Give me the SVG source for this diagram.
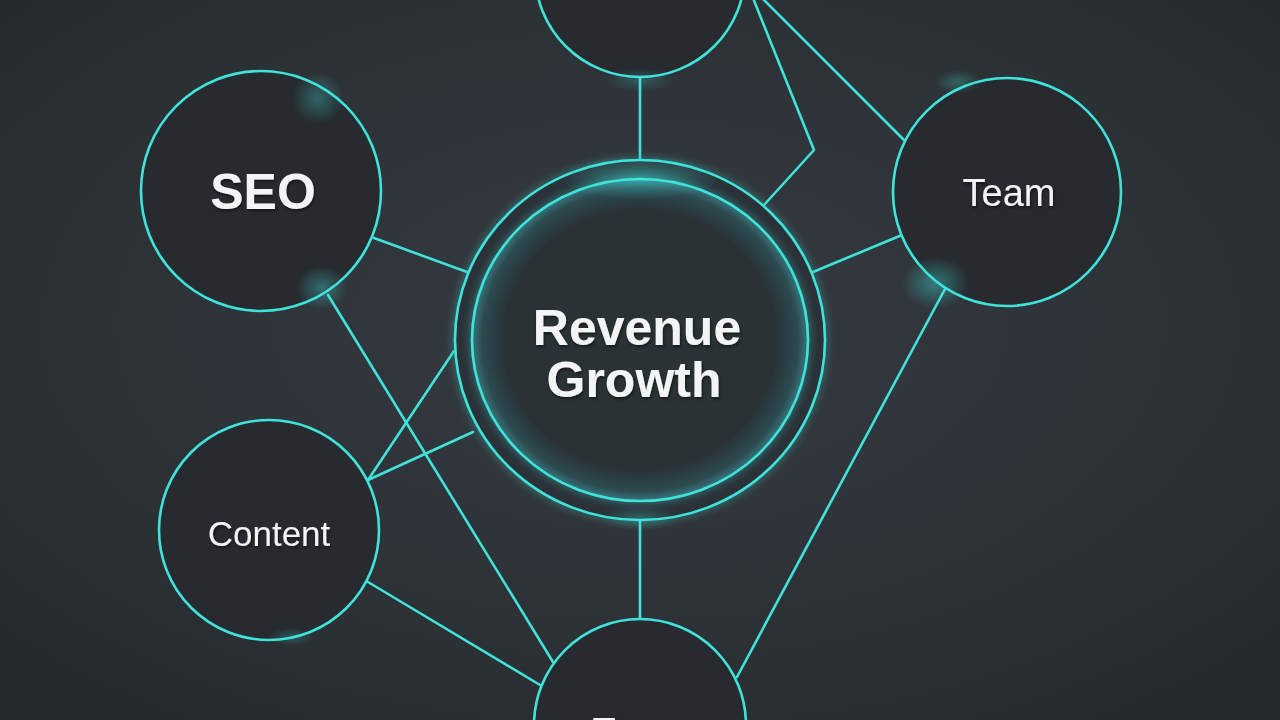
<svg xmlns="http://www.w3.org/2000/svg" width="1280" height="720" viewBox="0 0 1280 720">
<defs>
<radialGradient id="bg" cx="0.5" cy="0.45" r="0.75">
<stop offset="0" stop-color="#353b41"/>
<stop offset="0.6" stop-color="#2c3136"/>
<stop offset="1" stop-color="#24282c"/>
</radialGradient>
<radialGradient id="spot" cx="0.5" cy="0.5" r="0.5">
<stop offset="0" stop-color="#3fe6e0" stop-opacity="0.45"/>
<stop offset="1" stop-color="#3fe6e0" stop-opacity="0"/>
</radialGradient>
<radialGradient id="coreGlow" cx="0.5" cy="0.5" r="0.5">
<stop offset="0.8" stop-color="#2a3036"/>
<stop offset="0.94" stop-color="#2d4a50"/>
<stop offset="1" stop-color="#35777c"/>
</radialGradient>
<filter id="glow" x="-30%" y="-30%" width="160%" height="160%">
<feGaussianBlur in="SourceGraphic" stdDeviation="4" result="b"/>
<feComponentTransfer in="b" result="b2"><feFuncA type="linear" slope="0.6"/></feComponentTransfer>
<feMerge><feMergeNode in="b2"/><feMergeNode in="SourceGraphic"/></feMerge>
</filter>
<filter id="tshadow" x="-20%" y="-20%" width="140%" height="140%">
<feDropShadow dx="1" dy="2" stdDeviation="1.5" flood-color="#000" flood-opacity="0.5"/>
</filter>
</defs>
<style>
.ln{stroke:#3fe3da;stroke-width:2.6;fill:none;stroke-linecap:round;stroke-linejoin:round}
.node{fill:#272b30;stroke:#3fe3da;stroke-width:2.6}
.lbl{font-family:"Liberation Sans",Arial,sans-serif;fill:#f2f4f5;text-anchor:middle;filter:url(#tshadow)}
</style>
<rect width="1280" height="720" fill="url(#bg)"/>

<g id="connectors">
<line class="ln" x1="640" y1="77" x2="640" y2="160"/>
<line class="ln" x1="640" y1="520" x2="640" y2="619"/>
<polyline class="ln" points="753,-2 814,150 764,205"/>
<line class="ln" x1="762" y1="-2" x2="904" y2="140"/>
<line class="ln" x1="374" y1="238" x2="467" y2="272"/>
<line class="ln" x1="328" y1="295" x2="553" y2="662"/>
<line class="ln" x1="368" y1="480" x2="454" y2="351"/>
<line class="ln" x1="368" y1="480" x2="473" y2="432"/>
<line class="ln" x1="368" y1="582" x2="540" y2="685"/>
<line class="ln" x1="813" y1="272" x2="902" y2="235"/>
<line class="ln" x1="945" y1="289" x2="737" y2="677"/>
</g>

<g id="node-top">
<circle class="node" cx="640" cy="-28" r="105"/>
</g>

<g id="node-seo">
<circle class="node" cx="261" cy="191" r="120"/>
<text class="lbl" x="263" y="209" font-size="50" font-weight="bold">SEO</text>
</g>

<g id="node-team">
<circle class="node" cx="1007" cy="192" r="114"/>
<text class="lbl" x="1009" y="206" font-size="38">Team</text>
</g>

<g id="node-content">
<circle class="node" cx="269" cy="530" r="110"/>
<text class="lbl" x="269" y="546" font-size="35">Content</text>
</g>

<g id="node-bottom">
<circle class="node" cx="640" cy="725" r="106"/>
<text class="lbl" x="604" y="745" font-size="38">T</text>
</g>

<g id="node-center">
<ellipse cx="640" cy="340" rx="185" ry="180" fill="#2b3137" stroke="#3fe3da" stroke-width="2.6" filter="url(#glow)"/>
<ellipse cx="640" cy="340" rx="168" ry="161" fill="url(#coreGlow)" stroke="#3fe3da" stroke-width="2.6" filter="url(#glow)"/>
<text class="lbl" x="637" y="345" font-size="50" font-weight="bold">Revenue</text>
<text class="lbl" x="634" y="397" font-size="50" font-weight="bold">Growth</text>
</g>

<g id="glows">
<ellipse cx="640" cy="178" rx="80" ry="22" fill="url(#spot)"/>
<ellipse cx="318" cy="98" rx="26" ry="26" fill="url(#spot)" opacity="0.7"/>
<ellipse cx="322" cy="288" rx="26" ry="22" fill="url(#spot)" opacity="0.8"/>
<ellipse cx="935" cy="283" rx="34" ry="26" fill="url(#spot)" opacity="0.9"/>
<ellipse cx="958" cy="82" rx="24" ry="12" fill="url(#spot)" opacity="0.6"/>
<ellipse cx="640" cy="80" rx="34" ry="12" fill="url(#spot)" opacity="0.5"/>
<ellipse cx="640" cy="518" rx="40" ry="12" fill="url(#spot)" opacity="0.6"/>
<ellipse cx="292" cy="637" rx="24" ry="9" fill="url(#spot)" opacity="0.5"/>
</g>
</svg>
